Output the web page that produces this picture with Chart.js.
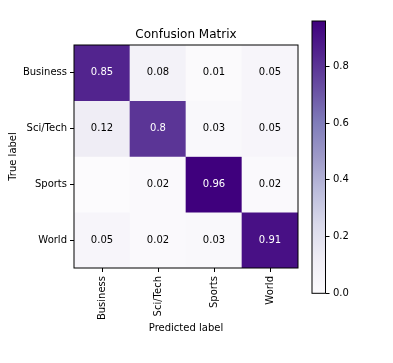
<!DOCTYPE html>
<html>
<head>
<meta charset="utf-8">
<script src="https://cdn.jsdelivr.net/npm/chart.js@4/dist/chart.umd.min.js"></script>
<style>
  html, body { margin: 0; padding: 0; background: #ffffff; }
  #wrap { position: relative; width: 393px; height: 363px; }
  canvas { position: absolute; left: 0; top: 0; }
  #cbar { pointer-events: none; }
</style>
</head>
<body>
<div id="wrap">
  <canvas id="main" width="393" height="363"></canvas>
  <canvas id="cbar" width="393" height="363"></canvas>
</div>
<script>
// ---- data ----
const predictedLabels = ['Business', 'Sci/Tech', 'Sports', 'World'];
const trueLabels = ['Business', 'Sci/Tech', 'Sports', 'World'];
const rowBusiness = [0.85, 0.08, 0.01, 0.05];
const rowSciTech  = [0.12, 0.80, 0.03, 0.05];
const rowSports   = [0.00, 0.02, 0.96, 0.02];
const rowWorld    = [0.05, 0.02, 0.03, 0.91];
const colorbarTicks = [0.0, 0.2, 0.4, 0.6, 0.8];

const rows = [rowBusiness, rowSciTech, rowSports, rowWorld];
const vmax = Math.max(...rows.flat());
const FONT = 'DejaVu Sans';

// matplotlib "Purples" colormap anchors
const purplesStops = [
  [252,251,253],[239,237,245],[218,218,235],[188,189,220],[158,154,200],
  [128,125,186],[106,81,163],[84,39,143],[63,0,125]
];
function purples(t) {
  t = Math.max(0, Math.min(1, t));
  const p = t * (purplesStops.length - 1);
  const i = Math.min(Math.floor(p), purplesStops.length - 2);
  const f = p - i;
  const a = purplesStops[i], b = purplesStops[i + 1];
  const c = a.map((v, k) => Math.round(v + (b[k] - v) * f));
  return `rgb(${c[0]},${c[1]},${c[2]})`;
}
function fmt(v) { return String(Math.round(v * 100) / 100); }

const framePlugin = {
  id: 'frame',
  afterDatasetsDraw(chart) {
    const a = chart.chartArea;
    const ctx = chart.ctx;
    ctx.save();
    ctx.strokeStyle = '#000';
    ctx.lineWidth = 1;
    ctx.strokeRect(a.left, a.top, a.right - a.left, a.bottom - a.top);
    ctx.restore();
  }
};

const cellTextPlugin = {
  id: 'cellText',
  afterDatasetsDraw(chart) {
    const ctx = chart.ctx;
    ctx.save();
    ctx.font = `10px "${FONT}"`;
    ctx.textAlign = 'center';
    ctx.textBaseline = 'middle';
    chart.data.datasets.forEach((ds, di) => {
      const meta = chart.getDatasetMeta(di);
      meta.data.forEach((el, ci) => {
        const v = ds.values[ci];
        if (Math.round(v * 100) === 0) return;
        ctx.fillStyle = v > vmax / 2 ? '#ffffff' : '#000000';
        ctx.fillText(fmt(v), el.x, (el.y + el.base) / 2);
      });
    });
    ctx.restore();
  }
};

const datasets = rows.map((r, i) => ({
  label: trueLabels[i],
  data: r.map(() => 1),
  values: r,
  backgroundColor: r.map(v => purples(v / vmax)),
  borderWidth: 0,
  barPercentage: 1,
  categoryPercentage: 1
}));

new Chart(document.getElementById('main'), {
  type: 'bar',
  data: { labels: predictedLabels, datasets },
  options: {
    responsive: false,
    animation: false,
    layout: { padding: { left: 0, right: 95, top: 0, bottom: 0 } },
    plugins: {
      legend: { display: false },
      tooltip: { enabled: false },
      title: { display: false }
    },
    scales: {
      x: {
        stacked: true,
        offset: true,
        grid: { display: true, drawOnChartArea: false, drawTicks: true, tickLength: 4, color: '#000', offset: false },
        border: { display: false },
        ticks: { minRotation: 90, maxRotation: 90, padding: 4, color: '#000', font: { family: FONT, size: 10 } },
        title: { display: true, text: 'Predicted label', color: '#000', font: { family: FONT, size: 10 }, padding: { top: 0, bottom: 28.7 } },
        afterFit(scale) { scale.height = 95; }
      },
      xTop: {
        type: 'category',
        position: 'top',
        offset: true,
        grid: { display: false },
        border: { display: false },
        ticks: { display: false },
        title: { display: true, text: 'Confusion Matrix', color: '#000', font: { family: FONT, size: 12 }, padding: { top: 27.8, bottom: 0 } },
        afterFit(scale) { scale.height = 45; }
      },
      y: {
        stacked: true,
        reverse: true,
        min: 0,
        max: 4,
        grid: { display: true, drawOnChartArea: false, drawTicks: true, tickLength: 4, color: '#000' },
        border: { display: false },
        afterBuildTicks(scale) { scale.ticks = trueLabels.map((_, i) => ({ value: i + 0.5 })); },
        ticks: {
          padding: 3, color: '#000', font: { family: FONT, size: 10 },
          callback: (v) => trueLabels[Math.floor(v)]
        },
        title: { display: true, text: 'True label', color: '#000', font: { family: FONT, size: 10 }, padding: { top: 7, bottom: 0 } },
        afterFit(scale) { scale.width = 74; }
      }
    }
  },
  plugins: [cellTextPlugin, framePlugin]
});

// ---- colorbar ----
new Chart(document.getElementById('cbar'), {
  type: 'bar',
  data: {
    labels: [''],
    datasets: [{
      data: [vmax],
      borderWidth: 0,
      barPercentage: 1,
      categoryPercentage: 1,
      backgroundColor(ctx) {
        const area = ctx.chart.chartArea;
        if (!area) return purples(0.5);
        const g = ctx.chart.ctx.createLinearGradient(0, area.bottom, 0, area.top);
        purplesStops.forEach((c, i) => g.addColorStop(i / (purplesStops.length - 1), `rgb(${c[0]},${c[1]},${c[2]})`));
        return g;
      }
    }]
  },
  options: {
    responsive: false,
    animation: false,
    layout: { padding: { left: 312, right: 27.5, top: 21, bottom: 69.7 } },
    plugins: { legend: { display: false }, tooltip: { enabled: false }, title: { display: false } },
    scales: {
      x: { display: false, offset: true },
      y: {
        position: 'right',
        min: 0,
        max: vmax,
        grid: { display: true, drawOnChartArea: false, drawTicks: true, tickLength: 4, color: '#000' },
        border: { display: false },
        afterBuildTicks(scale) { scale.ticks = colorbarTicks.map(v => ({ value: v })); },
        ticks: { padding: 3.5, color: '#000', font: { family: FONT, size: 10 }, callback: (v) => v.toFixed(1) },
        afterFit(scale) { scale.width = 40; }
      }
    }
  },
  plugins: [framePlugin]
});
</script>
</body>
</html>
